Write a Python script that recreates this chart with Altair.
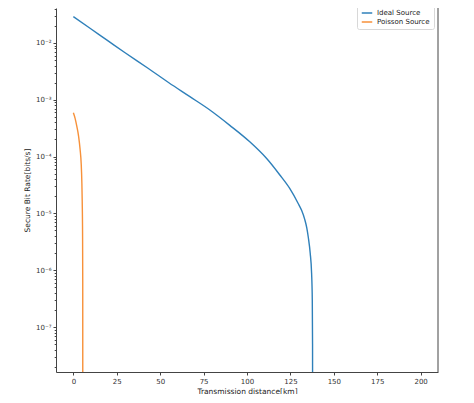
import altair as alt
import pandas as pd

# Ideal source (distance km, secure bit rate)
ideal_km = [0, 10, 20, 30, 43, 55, 67.1, 78.6, 90.1, 101.6, 111.2, 118.8, 124.6, 129.4,
            131.5, 133.2, 134.4, 135.3, 136.4, 137.2, 137.6, 137.75, 137.85]
ideal_rate = [2.904e-2, 1.778e-2, 1.089e-2, 6.668e-3, 3.589e-3, 1.995e-3, 1.135e-3, 6.61e-4,
              3.55e-4, 1.82e-4, 9.33e-5, 4.79e-5, 2.75e-5, 1.51e-5, 1.12e-5, 7.94e-6, 5.62e-6,
              3.8e-6, 2.0e-6, 8.9e-7, 3.0e-7, 5e-8, 1e-11]

# Poisson source
poisson_km = [0, 1, 2, 3, 3.9, 4.5, 4.9, 5.1, 5.3, 5.4, 5.45]
poisson_rate = [5.9e-4, 4.7e-4, 3.4e-4, 2.3e-4, 1.32e-4, 7.6e-5, 3.4e-5, 1.6e-5, 4.5e-6, 6.3e-7, 1e-11]

series_names = ["Ideal Source", "Poisson Source"]
series_colors = ["#2f80ba", "#f7913a"]

x_ticks = [0, 25, 50, 75, 100, 125, 150, 175, 200]
y_major = [1e-7, 1e-6, 1e-5, 1e-4, 1e-3, 1e-2]
y_minor = [m * 10.0 ** k for k in range(-8, -1) for m in range(2, 10)]
y_minor = [v for v in y_minor if 1.614e-8 <= v <= 0.0413]

df = pd.concat([
    pd.DataFrame({"distance": ideal_km, "rate": ideal_rate, "source": series_names[0]}),
    pd.DataFrame({"distance": poisson_km, "rate": poisson_rate, "source": series_names[1]}),
])

FONT = "DejaVu Sans"
W, H = 382, 364

xscale = alt.Scale(domain=[-10, 210], nice=False, zero=False)
yscale = alt.Scale(type="log", domain=[1.614e-8, 0.0413], nice=False)

label_expr = ("'10' + '\u207b' + ['','\u00b9','\u00b2','\u00b3','\u2074','\u2075','\u2076','\u2077','\u2078']"
              "[round(-log(datum.value)/LN10)]")

lines = alt.Chart(df).mark_line(clip=True, strokeWidth=1.4, interpolate="monotone").encode(
    x=alt.X("distance:Q", scale=xscale,
            axis=alt.Axis(values=x_ticks, title="Transmission distance[km]", grid=False,
                          tickSize=3, labelPadding=2, titlePadding=3, format="d")),
    y=alt.Y("rate:Q", scale=yscale,
            axis=alt.Axis(orient="left", values=y_major, labelExpr=label_expr,
                          title="Secure Bit Rate[bits/s]",
                          grid=False, tickSize=3, labelPadding=2, titlePadding=4)),
    color=alt.Color("source:N", scale=alt.Scale(domain=series_names, range=series_colors),
                    legend=alt.Legend(title=None, orient="none", legendX=301, legendY=-5,
                                      symbolType="stroke", symbolSize=110, symbolStrokeWidth=1.5,
                                      labelFontSize=7, padding=4, rowPadding=0, labelOffset=4,
                                      strokeColor="#d8d8d8", fillColor="white", cornerRadius=2)),
    order=alt.Order("distance:Q"),
)

minor = alt.Chart(pd.DataFrame({"v": y_minor})).mark_tick(opacity=0).encode(
    y=alt.Y("v:Q", scale=yscale,
            axis=alt.Axis(orient="left", values=y_minor, labels=False, tickSize=1.8,
                          title=None, grid=False, domain=False)),
)

right_spine = alt.Chart(pd.DataFrame({"a": [0]})).mark_rule(color="#444", strokeWidth=1).encode(
    x=alt.value(W), y=alt.value(0), y2=alt.value(H)
)

chart = alt.layer(lines, minor, right_spine).resolve_axis(y="independent").properties(
    width=W, height=H,
    autosize=alt.AutoSizeParams(type="none"),
    padding={"left": 48, "top": 0, "right": 28, "bottom": 22},
).configure(background="white").configure_view(stroke=None).configure_axis(
    labelFont=FONT, titleFont=FONT, labelFontSize=7, titleFontSize=7.5,
    labelColor="#333", titleColor="#222", domainColor="#444", tickColor="#444",
    titleFontWeight="normal",
).configure_legend(labelFont=FONT, labelColor="#222")

chart.save("out.html", embed_options={"renderer": "svg", "actions": False})
